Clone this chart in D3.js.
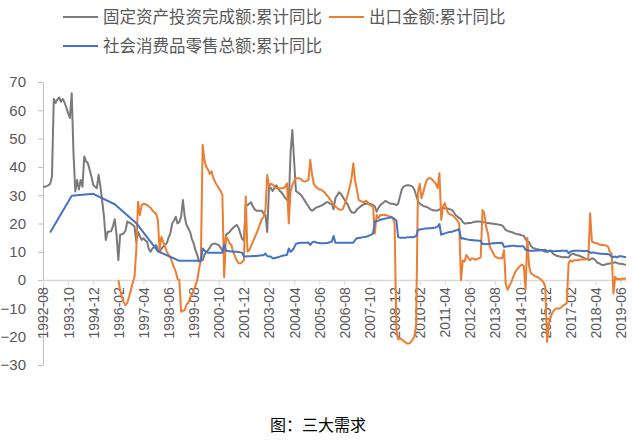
<!DOCTYPE html>
<html>
<head>
<meta charset="utf-8">
<script src="https://cdn.jsdelivr.net/npm/d3@7"></script>
<style>
  body { margin: 0; background: #fff; }
  svg { display: block; font-family: "Noto Sans CJK SC", "Noto Sans", sans-serif; }
</style>
</head>
<body>
<svg width="643" height="442"></svg>
<script>
/* data: cumulative YoY %, monthly from 1992-08 */

var firstMonth = new Date(1992, 7, 1);
var lastMonth = new Date(2019, 8, 1);
var months = d3.timeMonth.range(firstMonth, d3.timeMonth.offset(lastMonth, 1)).map(d3.timeFormat("%Y-%m"));

// 固定资产投资完成额, from 1992-08
var grayStart = "1992-08";
var grayValues = [
  33, 33, 33.2, 33.5, 34, 36.6, 64, 62.6, 63.8, 64.6,
  63, 64, 62.8, 61, 59, 57.3, 66, 45, 31.3, 35.4,
  32, 35.4, 33, 43.7, 42, 41.3, 39, 36.6, 33.6, 33,
  32.5, 37.2, 33, 28, 22.4, 14.2, 17, 17.2, 17.3, 19,
  21.5, 16, 7, 16, 16.2, 16.5, 17.5, 20.7, 20.3, 20,
  19.5, 19, 13.6, 17, 15.5, 14.2, 14.8, 14, 13.6, 11,
  10, 11.2, 11.8, 12.4, 11, 10, 11, 11.8, 12.5, 13,
  15, 16.5, 20, 21, 22.4, 20, 20.5, 22.4, 28.3, 22.4,
  19.5, 18.3, 17, 14.5, 13, 10.5, 8.9, 6.5, 6.8, 7,
  8.9, 9.8, 10.6, 11.5, 12.6, 12.8, 12.9, 12.6, 12.4, 11.5,
  10.5, 10.5, 16, 16.5, 17, 17.8, 18.5, 19, 19.5, 18.5,
  16.5, 14.5, 14, 26, 26.5, 27, 27.5, 26, 25, 24.5,
  24.5, 24.5, 24.5, 23.5, 23, 17, 33, 32.5, 31.5, 32.5,
  33.5, 32.5, 31.5, 31, 30, 29, 28.5, 27, 45, 53,
  42, 31.5, 31, 30.5, 30, 29, 28, 27, 26, 25,
  24.5, 25, 25.5, 25.8, 26, 26.3, 26.6, 27, 27.5, 27.5,
  27, 27, 25, 29, 30, 31, 30.5, 29.5, 28.5, 27.5,
  26.5, 25, 24, 23.8, 24, 25, 25.5, 26, 26.5, 26.8,
  27, 27, 27, 26.8, 26.5, 26, 24.2, 25.5, 26.5, 27,
  27.5, 28, 27.6, 27.2, 27, 27, 26.8, 26.5, 27, 29.5,
  32, 33, 33.3, 33.5, 33.5, 33.3, 33, 32, 30, 28,
  27, 26.6, 26.2, 26, 25.8, 25.5, 25, 24.8, 24.6, 24.6,
  24.6, 25, 25.2, 25.4, 25.4, 25.4, 25.2, 25, 24.8, 24,
  23, 22.5, 22, 21.5, 20.5, 20, 20, 20.2, 20.2, 20.3,
  20.5, 20.6, 20.7, 20.7, 20.6, 20.5, 20.4, 20.3, 20.2, 20.1,
  20, 19.9, 19.8, 19.7, 19.6, 19.5, 19.3, 18.5, 17.7, 17.4,
  17.2, 17, 16.8, 16.5, 16.3, 16.2, 16, 15.8, 15.7, 14.5,
  13.6, 13.5, 12, 11.4, 11.2, 11, 10.9, 10.6, 10.5, 10.3,
  10, 10, 10.2, 10.5, 9.6, 9, 8.7, 8.5, 8.3, 8.2,
  8.1, 8.2, 8.1, 8, 8.9, 9.2, 9.2, 8.9, 8.8, 8.6,
  8.3, 8, 7.7, 7.5, 7.2, 7.2, 7.7, 7.5, 7, 6.1,
  6, 5.5, 5.3, 5.4, 5.6, 5.8, 5.9, 6, 6.1, 6.3,
  6.1, 5.8, 5.8, 5.7, 5.5, 5.4
];

// 出口金额, from 1996-02
var orangeStart = "1996-02";
var orangeValues = [
  0, -3.5, -6, -7.7, -8.9, -8, -5.9, -3.5,
  -1, 1, 10.6, 27.7, 23, 26.5, 27, 26.8, 26.5, 26,
  25.5, 24.6, 24, 23.5, 21.5, 10.6, 15.3, 13.6, 12, 10,
  9, 8, 6.3, 4.5, 3, 0.5, 0, -11.2, -10.8, -10.6,
  -8.6, -8, -6.5, -5, -3.5, -2, 0, 4, 7, 47.8,
  42.5, 40, 39, 37.5, 38.4, 36, 34.5, 33.5, 32.5, 31.5,
  30, 1, 15.3, 14.5, 13, 12.4, 10, 8.5, 7, 6,
  5.9, 6.3, 7, 29.5, 10, 10.6, 12, 13.6, 15, 16.5,
  18, 20, 21.5, 22.4, 24.8, 37.2, 33, 34, 33.8, 33,
  32.5, 32.5, 32.5, 32.5, 32.5, 33, 34.2, 20, 31.3, 33.6,
  35, 36, 36, 36, 35.5, 35, 34.8, 35, 35.5, 42.5,
  37.2, 34, 33, 32.5, 32, 32, 31.5, 31, 30.1, 29.5,
  28.5, 27.7, 26.5, 26, 25.5, 25, 24.8, 25, 26.5, 28.3,
  30.5, 33, 36, 41.3, 35, 31.9, 28.3, 28, 27.7, 27.5,
  28, 27.5, 26.6, 26.3, 26, 16.5, 23, 21.8, 23, 23,
  23, 23, 22.8, 22.5, 22.4, 22, 20, -17.5, -21, -20.5,
  -21, -21.5, -22, -22.4, -22.4, -22, -21, -20, -16, 31,
  34, 29, 31, 33.6, 35.4, 36, 36, 35.5, 34.8, 34,
  32.5, 37.8, 21.3, 26, 27.2, 25, 23.6, 23.2, 23, 22.5,
  21.8, 21, 20, 0, 7, 6.5, 8.9, 8, 7, 7.7,
  7.5, 7.2, 7.5, 7.7, 8, 24.8, 23.6, 19, 16.5, 12,
  10.6, 9.5, 8.3, 8, 7.7, 7.7, 7.7, 10.6, -1.6, -3.4,
  -2, -0.8, 0.9, 2.5, 3.6, 4.3, 5, 5.5, 5, -3.3,
  15, 4.9, 2.4, 2, 1.5, 1.2, 1, 0.5, 0, -0.8,
  -2.5, -21.8, -15.3, -13, -11.5, -10.6, -10, -10, -10, -9.6,
  -9, -8.6, -8.2, 6, 7, 6.5, 7, 7, 7, 7.2,
  7.3, 7.3, 7.3, 7.5, 7.7, 23.6, 13.6, 13.3, 13, 13,
  12.6, 12.4, 12.4, 12.3, 12.2, 11.8, 9.9, 9.4, -4.7, 1.2,
  0.2, 0.5, 0.1, 0.6, 0.5, 0.6
];

// 社会消费品零售总额: yearly points first, monthly from 2000-01
var blueYearDates = ["1992-12", "1993-12", "1994-12", "1995-12", "1996-12", "1997-12", "1998-12", "1999-12"];
var blueYearValues = [16.8, 29.8, 30.5, 26.8, 20.1, 10.2, 6.8, 6.8];
var blueStart = "2000-01";
var blueValues = [
  11.2, 10.4, 10, 9.7, 9.7, 9.7, 9.7, 9.7, 9.7, 9.7, 9.7,
  9.7, 12.4, 10.4, 10.3, 10.2, 10.1, 10, 10, 10, 9.9,
  9.8, 9.7, 8.3, 8.3, 8.4, 8.4, 8.4, 8.5, 8.5, 8.5,
  8.6, 8.7, 8.8, 8.8, 9.4, 8.5, 8.3, 8.3, 7.7, 7.7,
  7.9, 8.1, 8.3, 8.5, 8.7, 8.8, 8.9, 11.2, 10, 10.5,
  11.5, 12.8, 13, 13.1, 13.2, 13.2, 13.2, 13.2, 13.3, 12.4,
  13.3, 13.6, 13.4, 13.2, 13.1, 13, 13, 13, 13.1, 13.2,
  13.4, 13.6, 15.6, 13.2, 13.2, 13.2, 13.2, 13.2, 13.2, 13.2,
  13.2, 13.2, 13.2, 13.2, 14.2, 14.8, 14.9, 15, 15.1, 15.2,
  15.3, 15.5, 15.8, 16.1, 16.5, 20.7, 20.8, 21, 21.3, 21.5,
  21.6, 21.8, 21.9, 22, 22.2, 22, 21.6, 21, 15.2, 15,
  15, 15, 15, 15.1, 15.1, 15.2, 15.1, 15.3, 15.5, 17.7,
  17.9, 18, 18.1, 18.2, 18.2, 18.3, 18.3, 18.4, 18.5, 18.6,
  18.9, 19.8, 16, 16.3, 16.5, 16.7, 16.9, 17, 17.1, 17.3,
  17.5, 17.7, 18, 14.7, 14.8, 14.6, 14.4, 14.3, 14.2, 14.2,
  14.1, 14, 14, 13.9, 13.9, 12.8, 12.8, 12.7, 12.8, 12.8,
  12.9, 13, 13, 13.1, 13.1, 13.2, 13.1, 11.8, 11.8, 12,
  12, 12.1, 12.1, 12.1, 12, 12, 12, 12, 11.9, 10.7,
  10.6, 10.4, 10.4, 10.4, 10.4, 10.5, 10.5, 10.5, 10.6, 10.6,
  10.7, 10.2, 10.3, 10.3, 10.2, 10.2, 10.3, 10.3, 10.3, 10.4,
  10.4, 10.4, 10.4, 9.5, 10, 10.2, 10.4, 10.4, 10.4, 10.4,
  10.4, 10.3, 10.3, 10.3, 10.2, 9.7, 9.7, 9.8, 9.6, 9.5,
  9.4, 9.3, 9.3, 9.2, 9.2, 9.1, 9, 8.2, 8.2, 8.3,
  8, 8.4, 8.4, 8.3, 8.2, 8.2
];

var seriesNames = ["固定资产投资完成额:累计同比", "出口金额:累计同比", "社会消费品零售总额:累计同比"];
var seriesColors = ["#7a7a7a", "#ed7d31", "#4472c4"];
var yTicks = [-30, -20, -10, 0, 10, 20, 30, 40, 50, 60, 70];
var xTickStep = 14;
var caption = "图：三大需求";

function run(start, values) {
  var i0 = months.indexOf(start);
  return values.map(function(v, i) { return { i: i0 + i, v: v }; });
}

var grayData = run(grayStart, grayValues);
var orangeData = run(orangeStart, orangeValues);
var blueData = blueYearDates.map(function(d, k) { return { i: months.indexOf(d), v: blueYearValues[k] }; })
  .concat(run(blueStart, blueValues));

var svg = d3.select("svg");

var x = d3.scaleLinear()
  .domain([0, months.length - 1])
  .range([43, 626]);

var y = d3.scaleLinear()
  .domain([-30, 70])
  .range([365, 82]);

// y axis
var yAxis = svg.append("g")
  .attr("transform", "translate(43,0)")
  .call(d3.axisLeft(y).tickValues(yTicks).tickSize(5).tickSizeOuter(0).tickPadding(12));
yAxis.select(".domain").attr("stroke", "#bfbfbf");
yAxis.selectAll(".tick line").attr("stroke", "#bfbfbf");
yAxis.selectAll(".tick text")
  .attr("fill", "#595959")
  .style("font-size", "15px")
  .style("font-family", "'Liberation Sans', sans-serif");

// x axis on the zero line
var xTickIdx = d3.range(0, months.length, xTickStep);
var xAxis = svg.append("g")
  .attr("transform", "translate(0," + y(0) + ")")
  .call(d3.axisBottom(x).tickValues(xTickIdx).tickSize(5).tickSizeOuter(0)
    .tickFormat(function(i) { return months[i]; }));
xAxis.select(".domain").attr("stroke", "#d9d9d9").attr("stroke-width", 1.5);
xAxis.selectAll(".tick line").attr("stroke", "#d9d9d9");
xAxis.selectAll(".tick text")
  .attr("fill", "#595959")
  .attr("y", 0)
  .attr("x", -7)
  .attr("dy", "0.35em")
  .attr("transform", "rotate(-90)")
  .style("text-anchor", "end")
  .style("font-size", "14px")
  .style("font-family", "'Liberation Sans', sans-serif");

var line = d3.line()
  .x(function(d) { return x(d.i); })
  .y(function(d) { return y(d.v); });

[grayData, orangeData, blueData].forEach(function(data, k) {
  svg.append("path")
    .attr("d", line(data))
    .attr("fill", "none")
    .attr("stroke", seriesColors[k])
    .attr("stroke-width", 2)
    .attr("stroke-linejoin", "round");
});

// legend
var legendPos = [[63, 17], [329, 17], [63, 46]];
seriesNames.forEach(function(name, k) {
  var g = svg.append("g").attr("transform", "translate(" + legendPos[k][0] + "," + legendPos[k][1] + ")");
  g.append("line")
    .attr("x1", 0).attr("x2", 35)
    .attr("stroke", seriesColors[k])
    .attr("stroke-width", 2);
  g.append("text")
    .attr("x", 40)
    .attr("dy", "0.35em")
    .attr("fill", "#595959")
    .style("font-size", "16.5px")
    .text(name);
});

svg.append("text")
  .attr("x", 318)
  .attr("y", 431)
  .attr("text-anchor", "middle")
  .attr("fill", "#000")
  .style("font-size", "16px")
  .text(caption);
</script>
</body>
</html>
